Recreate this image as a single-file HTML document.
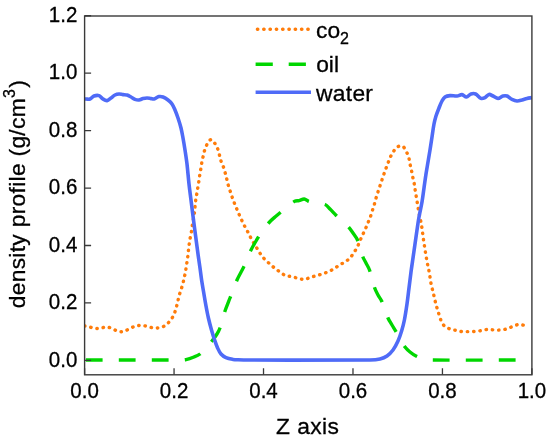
<!DOCTYPE html>
<html><head><meta charset="utf-8"><title>density profile</title>
<style>html,body{margin:0;padding:0;background:#fff;width:550px;height:440px;overflow:hidden}svg{display:block}</style>
</head><body>
<svg width="550" height="440" viewBox="0 0 550 440">
<rect width="550" height="440" fill="#fff"/>
<defs><clipPath id="c"><rect x="84.6" y="13.0" width="447.3" height="361.8"/></clipPath></defs>
<g clip-path="url(#c)" fill="none" stroke-width="3.4">
<path d="M84.60,326.00 C85.40,326.00 86.23,325.82 87.00,326.00 C89.03,326.48 90.94,327.62 93.00,328.00 C95.28,328.42 97.69,328.58 100.00,328.40 C102.03,328.24 104.00,327.00 106.00,327.00 C108.00,327.00 110.09,327.70 112.00,328.40 C114.09,329.16 115.89,330.87 118.00,331.40 C119.89,331.87 122.11,331.87 124.00,331.40 C126.11,330.87 127.96,329.32 130.00,328.40 C131.96,327.52 133.93,326.52 136.00,326.00 C137.93,325.52 140.01,325.30 142.00,325.40 C144.01,325.50 146.01,326.17 148.00,326.60 C150.01,327.03 151.98,327.88 154.00,328.00 C156.31,328.14 158.76,327.96 161.00,327.40 C162.76,326.96 164.57,326.12 166.00,325.00 C167.90,323.52 169.53,321.55 171.00,319.60 C172.20,318.01 173.19,316.22 174.00,314.40 C174.86,312.48 175.39,310.42 176.00,308.40 C176.59,306.42 177.11,304.41 177.60,302.40 C178.11,300.28 178.42,298.10 179.00,296.00 C179.56,293.97 180.38,292.01 181.00,290.00 C181.71,287.68 182.39,285.35 183.00,283.00 C183.52,281.01 183.97,279.01 184.40,277.00 C184.83,275.01 185.25,273.01 185.60,271.00 C185.98,268.81 186.26,266.60 186.60,264.40 C186.93,262.27 187.32,260.14 187.60,258.00 C187.88,255.87 188.06,253.73 188.30,251.60 C188.53,249.60 188.73,247.60 189.00,245.60 C189.30,243.40 189.62,241.19 190.00,239.00 C190.35,236.99 190.86,235.01 191.20,233.00 C191.59,230.68 191.83,228.33 192.20,226.00 C192.57,223.66 193.00,221.33 193.40,219.00 C193.74,217.00 194.13,215.01 194.40,213.00 C194.67,211.01 194.80,209.00 195.00,207.00 C195.20,205.00 195.33,202.99 195.60,201.00 C195.87,198.99 196.27,197.00 196.60,195.00 C196.93,193.00 197.27,191.00 197.60,189.00 C197.93,187.00 198.29,185.00 198.60,183.00 C198.96,180.67 199.23,178.33 199.60,176.00 C199.97,173.66 200.42,171.34 200.80,169.00 C201.15,166.87 201.41,164.72 201.80,162.60 C202.14,160.72 202.57,158.86 203.00,157.00 C203.51,154.79 203.92,152.55 204.60,150.40 C205.25,148.35 205.92,146.23 207.00,144.40 C208.05,142.63 209.60,139.74 211.00,139.60 C212.27,139.47 213.93,142.08 215.00,143.60 C216.27,145.41 217.20,147.52 218.00,149.60 C218.74,151.52 219.07,153.60 219.60,155.60 C220.13,157.60 220.54,159.64 221.20,161.60 C221.87,163.58 222.91,165.43 223.60,167.40 C224.31,169.43 224.84,171.52 225.40,173.60 C225.97,175.72 226.47,177.87 227.00,180.00 C227.53,182.13 227.99,184.29 228.60,186.40 C229.19,188.42 229.93,190.40 230.60,192.40 C231.27,194.40 231.88,196.42 232.60,198.40 C233.35,200.48 234.18,202.54 235.00,204.60 C235.78,206.54 236.58,208.47 237.40,210.40 C238.25,212.41 239.11,214.41 240.00,216.40 C240.84,218.28 241.71,220.15 242.60,222.00 C243.51,223.88 244.43,225.75 245.40,227.60 C246.36,229.42 247.44,231.18 248.40,233.00 C249.44,234.98 250.32,237.04 251.40,239.00 C252.52,241.04 253.80,243.00 255.00,245.00 C256.00,246.67 256.97,248.35 258.00,250.00 C259.17,251.88 260.28,253.82 261.60,255.60 C262.75,257.15 264.03,258.63 265.40,260.00 C266.83,261.43 268.47,262.66 270.00,264.00 C271.67,265.46 273.27,267.01 275.00,268.40 C276.60,269.68 278.30,270.85 280.00,272.00 C281.84,273.25 283.57,274.82 285.60,275.60 C287.57,276.36 289.90,276.13 292.00,276.60 C294.03,277.06 295.97,277.94 298.00,278.40 C300.10,278.87 302.31,279.57 304.40,279.40 C306.44,279.24 308.39,278.04 310.40,277.40 C312.39,276.77 314.39,276.17 316.40,275.60 C318.39,275.04 320.44,274.65 322.40,274.00 C324.44,273.32 326.44,272.48 328.40,271.60 C330.44,270.68 332.49,269.75 334.40,268.60 C336.16,267.55 337.66,266.08 339.40,265.00 C341.19,263.88 343.24,263.16 345.00,262.00 C346.77,260.83 348.54,259.53 350.00,258.00 C351.41,256.53 352.45,254.70 353.60,253.00 C354.79,251.24 356.00,249.47 357.00,247.60 C357.96,245.80 358.69,243.88 359.50,242.00 C360.36,240.01 361.10,237.97 362.00,236.00 C362.93,233.97 364.08,232.04 365.00,230.00 C365.92,227.95 366.64,225.82 367.50,223.75 C368.30,221.82 369.28,219.96 370.00,218.00 C370.78,215.91 371.31,213.73 372.00,211.60 C372.65,209.59 373.39,207.62 374.00,205.60 C374.59,203.62 375.04,201.59 375.60,199.60 C376.17,197.59 376.77,195.59 377.40,193.60 C378.04,191.59 378.73,189.60 379.40,187.60 C380.07,185.60 380.73,183.60 381.40,181.60 C382.07,179.60 382.71,177.59 383.40,175.60 C384.11,173.53 384.85,171.46 385.60,169.40 C386.38,167.26 387.18,165.12 388.00,163.00 C388.78,160.99 389.48,158.94 390.40,157.00 C391.28,155.14 392.23,153.28 393.40,151.60 C394.56,149.94 395.77,148.02 397.40,147.00 C398.77,146.15 401.10,145.40 402.40,146.00 C403.97,146.73 405.00,149.22 406.00,151.00 C407.06,152.89 407.96,154.93 408.60,157.00 C409.30,159.26 409.50,161.67 410.00,164.00 C410.43,166.01 410.98,167.99 411.40,170.00 C411.85,172.12 412.15,174.28 412.60,176.40 C413.02,178.41 413.62,180.38 414.00,182.40 C414.42,184.58 414.65,186.80 415.00,189.00 C415.32,191.00 415.67,193.00 416.00,195.00 C416.33,197.00 416.67,199.00 417.00,201.00 C417.33,203.00 417.67,205.00 418.00,207.00 C418.33,209.00 418.62,211.01 419.00,213.00 C419.45,215.34 420.03,217.66 420.50,220.00 C420.97,222.33 421.42,224.66 421.80,227.00 C422.12,228.99 422.33,231.00 422.60,233.00 C422.87,235.00 423.11,237.00 423.40,239.00 C423.71,241.20 424.06,243.40 424.40,245.60 C424.73,247.73 425.06,249.87 425.40,252.00 C425.72,254.00 426.05,256.00 426.40,258.00 C426.78,260.14 427.17,262.27 427.60,264.40 C428.04,266.61 428.58,268.79 429.00,271.00 C429.38,272.99 429.68,275.00 430.00,277.00 C430.34,279.13 430.59,281.28 431.00,283.40 C431.39,285.41 431.92,287.40 432.40,289.40 C432.92,291.60 433.48,293.80 434.00,296.00 C434.48,298.00 434.90,300.01 435.40,302.00 C435.90,304.01 436.42,306.01 437.00,308.00 C437.62,310.15 438.31,312.27 439.00,314.40 C439.65,316.41 440.12,318.50 441.00,320.40 C441.92,322.37 442.88,324.54 444.40,326.00 C445.88,327.41 448.04,328.26 450.00,329.00 C451.90,329.72 453.99,329.97 456.00,330.40 C457.99,330.83 459.98,331.41 462.00,331.60 C464.18,331.81 466.40,331.63 468.60,331.60 C470.73,331.57 472.87,331.56 475.00,331.40 C477.21,331.23 479.41,330.94 481.60,330.60 C483.74,330.27 485.85,329.50 488.00,329.40 C489.99,329.30 492.00,329.90 494.00,330.00 C496.00,330.10 498.01,330.16 500.00,330.00 C502.15,329.83 504.33,329.57 506.40,329.00 C508.67,328.37 510.78,327.21 513.00,326.40 C514.98,325.68 516.97,324.54 519.00,324.40 C520.97,324.27 523.01,325.16 525.00,325.60 C525.88,325.79 526.73,326.07 527.60,326.30" stroke="#ff7c0a" stroke-dasharray="0.4 5.9" stroke-linecap="round" />
<path d="M84.60,360.00 C116.40,360.00 148.20,360.13 180.00,360.00 C182.00,359.99 184.05,360.02 186.00,359.60 C188.72,359.02 191.40,358.04 194.00,357.00 C196.07,356.17 198.23,355.32 200.00,354.00 C202.23,352.32 204.08,350.08 206.00,348.00 C208.08,345.74 210.10,343.41 212.00,341.00 C213.77,338.75 215.50,336.43 217.00,334.00 C218.17,332.10 219.22,330.09 220.00,328.00 C221.22,324.75 222.02,321.34 223.00,318.00 C223.68,315.67 224.20,313.29 225.00,311.00 C226.53,306.62 228.32,302.33 230.00,298.00 C232.32,292.00 234.40,285.88 237.00,280.00 C239.06,275.34 241.85,271.02 244.00,266.40 C246.51,261.02 248.37,255.32 251.00,250.00 C253.37,245.19 256.17,240.56 259.00,236.00 C260.51,233.56 262.27,231.29 264.00,229.00 C265.80,226.62 267.59,224.20 269.60,222.00 C271.25,220.20 273.16,218.62 275.00,217.00 C276.96,215.28 279.01,213.68 281.00,212.00 C283.35,210.01 285.58,207.89 288.00,206.00 C290.15,204.32 292.31,202.47 294.70,201.30 C295.97,200.67 297.59,200.94 299.00,200.60 C300.76,200.17 302.53,198.88 304.20,199.00 C305.70,199.11 306.99,200.74 308.50,201.30 C310.59,202.07 312.80,202.57 315.00,203.00 C318.30,203.64 322.00,203.30 325.00,204.50 C327.00,205.30 328.40,207.43 330.00,209.00 C332.13,211.10 334.08,213.38 336.20,215.50 C338.08,217.38 340.05,219.18 342.00,221.00 C344.15,223.01 346.52,224.84 348.50,227.00 C350.18,228.84 351.58,230.95 353.00,233.00 C354.58,235.28 356.45,237.46 357.50,240.00 C359.62,245.12 360.57,250.77 362.50,256.00 C363.40,258.44 364.83,260.67 366.00,263.00 C367.17,265.33 368.65,267.54 369.50,270.00 C371.48,275.71 372.55,281.77 374.50,287.50 C375.39,290.10 376.72,292.56 378.00,295.00 C379.08,297.06 380.67,298.87 381.60,301.00 C384.01,306.53 385.60,312.46 388.00,318.00 C389.07,320.46 390.64,322.68 392.00,325.00 C393.30,327.22 394.72,329.37 396.00,331.60 C397.39,334.03 398.59,336.58 400.00,339.00 C401.59,341.71 403.09,344.52 405.00,347.00 C406.43,348.86 408.18,350.51 410.00,352.00 C411.85,353.51 413.86,354.93 416.00,356.00 C418.53,357.27 421.25,358.35 424.00,359.00 C426.92,359.69 429.98,359.97 433.00,360.00 C465.95,360.31 498.93,360.00 531.90,360.00" stroke="#00d600" stroke-dasharray="16.8 16.2" stroke-dashoffset="-1.2" />
<path d="M84.60,99.00 C85.07,99.00 85.53,99.00 86.00,99.00 C87.33,99.00 88.81,99.44 90.00,99.00 C91.48,98.44 92.50,96.57 94.00,96.00 C95.50,95.43 97.53,95.11 99.00,95.60 C100.53,96.11 101.54,98.08 103.00,99.00 C104.20,99.75 105.73,100.76 107.00,100.60 C108.40,100.42 109.70,98.91 111.00,98.00 C112.36,97.04 113.54,95.73 115.00,95.00 C116.21,94.40 117.65,94.07 119.00,94.00 C120.32,93.93 121.66,94.43 123.00,94.60 C124.33,94.77 125.74,94.62 127.00,95.00 C128.40,95.42 129.69,96.28 131.00,97.00 C132.36,97.75 133.57,98.86 135.00,99.40 C136.24,99.86 137.70,100.13 139.00,100.00 C140.36,99.86 141.64,98.94 143.00,98.60 C144.30,98.27 145.67,98.00 147.00,98.00 C148.33,98.00 149.67,98.41 151.00,98.60 C152.00,98.74 153.06,99.24 154.00,99.00 C155.73,98.57 157.26,96.99 159.00,96.60 C160.26,96.32 161.78,96.54 163.00,97.00 C164.78,97.67 166.48,98.82 168.00,100.00 C169.48,101.15 170.93,102.48 172.00,104.00 C173.27,105.81 174.12,107.95 175.00,110.00 C176.12,112.61 177.10,115.30 178.00,118.00 C179.10,121.30 180.16,124.63 181.00,128.00 C181.82,131.29 182.39,134.66 183.00,138.00 C183.73,141.99 184.38,145.99 185.00,150.00 C185.72,154.66 186.45,159.32 187.00,164.00 C187.78,170.65 188.26,177.34 189.00,184.00 C189.59,189.34 190.33,194.67 191.00,200.00 C191.67,205.33 192.32,210.67 193.00,216.00 C193.85,222.67 194.72,229.33 195.60,236.00 C196.39,242.00 197.18,248.00 198.00,254.00 C198.64,258.67 199.35,263.33 200.00,268.00 C200.55,272.00 201.00,276.01 201.60,280.00 C202.20,284.01 202.92,288.00 203.60,292.00 C204.39,296.67 205.14,301.34 206.00,306.00 C206.74,310.01 207.49,314.03 208.40,318.00 C209.32,322.03 210.38,326.02 211.50,330.00 C212.45,333.36 213.48,336.70 214.60,340.00 C215.51,342.70 216.42,345.42 217.60,348.00 C218.55,350.08 219.52,352.31 221.00,354.00 C222.32,355.51 224.16,356.77 226.00,357.60 C228.16,358.57 230.64,358.97 233.00,359.40 C234.64,359.70 236.33,359.74 238.00,359.80 C242.00,359.94 246.00,359.99 250.00,360.00 C290.00,360.06 330.02,360.31 370.00,360.00 C373.35,359.97 376.78,359.76 380.00,359.00 C382.44,358.43 384.95,357.42 387.00,356.00 C389.28,354.42 391.34,352.26 393.00,350.00 C395.01,347.26 396.59,344.12 398.00,341.00 C399.46,337.78 400.57,334.38 401.60,331.00 C402.70,327.38 403.66,323.71 404.40,320.00 C405.46,314.71 406.23,309.35 407.00,304.00 C407.76,298.68 408.33,293.33 409.00,288.00 C409.67,282.67 410.29,277.33 411.00,272.00 C411.62,267.33 412.33,262.67 413.00,258.00 C413.67,253.33 414.33,248.67 415.00,244.00 C415.67,239.33 416.31,234.66 417.00,230.00 C417.64,225.66 418.23,221.31 419.00,217.00 C419.90,211.98 421.13,207.02 422.00,202.00 C422.80,197.36 423.33,192.67 424.00,188.00 C424.67,183.33 425.28,178.66 426.00,174.00 C426.62,169.99 427.33,166.00 428.00,162.00 C428.67,158.00 429.36,154.00 430.00,150.00 C430.69,145.67 431.33,141.33 432.00,137.00 C432.67,132.67 433.18,128.30 434.00,124.00 C434.51,121.30 435.18,118.62 436.00,116.00 C436.85,113.29 437.94,110.64 439.00,108.00 C439.94,105.64 440.79,103.21 442.00,101.00 C442.79,99.55 443.69,97.88 445.00,97.00 C446.36,96.08 448.30,95.74 450.00,95.60 C452.30,95.41 454.70,96.19 457.00,96.00 C458.70,95.86 460.41,94.43 462.00,94.60 C463.54,94.76 464.97,97.10 466.40,97.00 C467.97,96.90 469.33,94.54 471.00,94.00 C472.40,93.54 474.27,93.42 475.60,94.00 C477.61,94.88 479.02,97.64 481.00,98.40 C482.16,98.84 483.82,98.19 485.00,97.60 C486.48,96.86 487.55,94.69 489.00,94.40 C490.22,94.16 491.69,95.42 493.00,96.00 C494.69,96.75 496.33,98.40 498.00,98.40 C499.67,98.40 501.26,96.46 503.00,96.00 C504.26,95.66 505.81,95.55 507.00,96.00 C508.81,96.68 510.22,98.51 512.00,99.40 C513.55,100.17 515.31,100.90 517.00,101.00 C518.64,101.10 520.36,100.43 522.00,100.00 C523.69,99.56 525.30,98.81 527.00,98.40 C528.60,98.01 530.27,97.87 531.90,97.60" stroke="#4f6bf7" stroke-linejoin="round" stroke-width="3.6" />
</g>
<rect x="84.60" y="16.00" width="447.30" height="358.80" fill="none" stroke="#3a3a3a" stroke-width="1.4"/>
<path d="M84.60,374.80v-6.5M174.06,374.80v-6.5M263.52,374.80v-6.5M352.98,374.80v-6.5M442.44,374.80v-6.5M531.90,374.80v-6.5M84.60,360.40h6.5M84.60,302.96h6.5M84.60,245.52h6.5M84.60,188.08h6.5M84.60,130.64h6.5M84.60,73.20h6.5M84.60,15.76h6.5" stroke="#3a3a3a" stroke-width="1.3" fill="none"/>
<g font-family="'Liberation Sans', Arial, sans-serif" font-size="20.5" fill="#000" stroke="#000" stroke-width="0.3">
<text transform="translate(84.60,398) scale(1,1.04)" text-anchor="middle">0.0</text>
<text transform="translate(174.06,398) scale(1,1.04)" text-anchor="middle">0.2</text>
<text transform="translate(263.52,398) scale(1,1.04)" text-anchor="middle">0.4</text>
<text transform="translate(352.98,398) scale(1,1.04)" text-anchor="middle">0.6</text>
<text transform="translate(442.44,398) scale(1,1.04)" text-anchor="middle">0.8</text>
<text transform="translate(531.90,398) scale(1,1.04)" text-anchor="middle">1.0</text>
<text transform="translate(77.3,366.60) scale(1,1.04)" text-anchor="end">0.0</text>
<text transform="translate(77.3,309.16) scale(1,1.04)" text-anchor="end">0.2</text>
<text transform="translate(77.3,251.72) scale(1,1.04)" text-anchor="end">0.4</text>
<text transform="translate(77.3,194.28) scale(1,1.04)" text-anchor="end">0.6</text>
<text transform="translate(77.3,136.84) scale(1,1.04)" text-anchor="end">0.8</text>
<text transform="translate(77.3,79.40) scale(1,1.04)" text-anchor="end">1.0</text>
<text transform="translate(77.3,21.96) scale(1,1.04)" text-anchor="end">1.2</text>
</g>
<g font-family="'Liberation Sans', Arial, sans-serif" font-size="22.8" fill="#000" stroke="#000" stroke-width="0.3">
<text x="276.1" y="433.6" letter-spacing="0.4">Z axis</text>
<text transform="translate(24.5,308.3) rotate(-90)" x="0" y="0" letter-spacing="0.3">density profile (g/cm<tspan font-size="16" dy="-9.3">3</tspan><tspan dy="9.3" dx="1.2">)</tspan></text>
<text x="316" y="38.0">co<tspan font-size="16" dy="6.3">2</tspan></text>
<text x="316.2" y="71.6">oil</text>
<text x="316" y="100.8" letter-spacing="0.3">water</text>
</g>
<g fill="none" stroke-width="3.4">
<path d="M257.4,29.3H311" stroke="#ff7c0a" stroke-dasharray="0.4 5.9" stroke-linecap="round"/>
<path d="M255.6,64.2H311" stroke="#00d600" stroke-dasharray="17.2 15.9"/>
<path d="M255.6,92.2H311" stroke="#4f6bf7"/>
</g>
</svg>
</body></html>
